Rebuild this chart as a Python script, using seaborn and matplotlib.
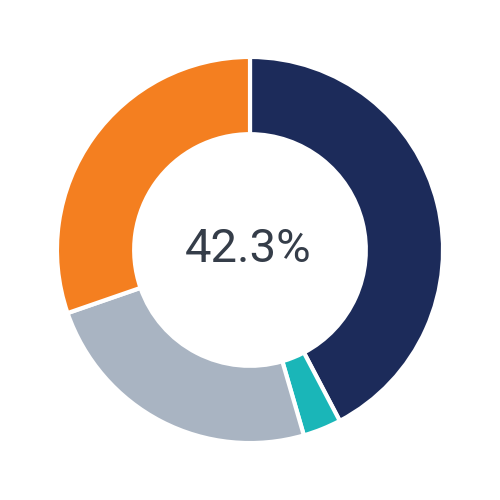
import matplotlib
matplotlib.use("Agg")
import matplotlib.pyplot as plt
import seaborn as sns

categories = ["Navy", "Teal", "Gray", "Orange"]
values = [42.3, 3.2, 24.2, 30.3]
colors = ["#1c2b5a", "#1ab6b8", "#a9b4c2", "#f47f20"]
center_label = "42.3%"

sns.set_theme(style="white")
plt.rcParams['font.family'] = ['Roboto', 'DejaVu Sans']

fig = plt.figure(figsize=(5, 5), dpi=100)
ax = fig.add_axes([0, 0, 1, 1])
ax.pie(values, colors=sns.color_palette(colors), startangle=90, counterclock=False,
       radius=1.0, wedgeprops=dict(width=0.4, edgecolor="white", linewidth=3))
ax.set_xlim(-1.295, 1.295)
ax.set_ylim(-1.295, 1.295)
ax.set_aspect("equal")
ax.axis("off")
ax.text(-0.01, 0.005, center_label, ha="center", va="center", fontsize=34,
        color="#353d49", fontweight="normal")
fig.savefig("out.png", dpi=100, facecolor="white")
